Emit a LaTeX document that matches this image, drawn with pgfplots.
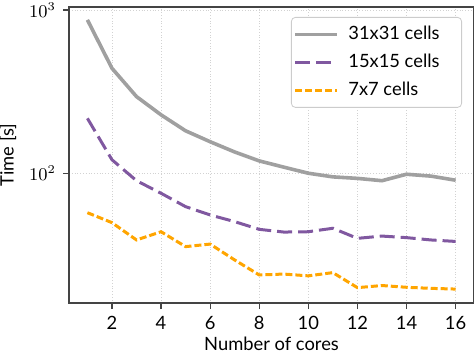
\documentclass[border=0pt]{standalone}
\usepackage{pgfplots}
\pgfplotsset{compat=1.18}
\usepackage{fontspec}
\setmainfont{Lato}
\definecolor{cgray}{RGB}{160,160,160}
\definecolor{cpurple}{RGB}{128,88,160}
\definecolor{corange}{RGB}{255,165,0}
\definecolor{spine}{RGB}{68,68,68}
\begin{document}
\begin{tikzpicture}
\begin{axis}[
  scale only axis,
  width=202.5bp, height=147.9bp,
  ymode=log,
  xmin=0.25, xmax=16.75,
  ymin=16, ymax=1040,
  xtick={2,4,...,16},
  ytick={100,1000},
  log basis y=10,
  font=\fontsize{9.2}{11}\selectfont,
  tick label style={font=\fontsize{9.2}{11}\selectfont},
  /pgf/number format/assume math mode=true,
  yticklabel={$10^{\pgfmathprintnumber[fixed,precision=0]{\tick}}$},
  xlabel={Number of cores},
  ylabel={Time [s]},
  xlabel style={at={(axis description cs:0.5,0)}, anchor=base, yshift=-23.5bp},
  ylabel style={at={(axis description cs:0,0.5)}, anchor=center, yshift=30.5bp},
  axis line style={spine, line width=0.8pt},
  tick style={spine, line width=0.6pt},
  tick align=outside,
  major tick length=3pt,
  minor tick length=1.8pt,
  xtick pos=bottom, ytick pos=left,
  grid=major,
  major grid style={densely dotted, gray!35, line width=0.4pt},
  legend style={at={(rel axis cs:1,1)}, xshift=-6bp, yshift=-4.85bp, anchor=north east,
    draw=gray!40, rounded corners=2pt,
    font=\fontsize{9.2}{11}\selectfont, row sep=1.4bp, inner xsep=1bp, inner ysep=2.2bp,
    nodes={text height=6.8bp, text depth=1.8bp, inner sep=2bp},
    /tikz/every odd column/.append style={column sep=2.7bp}},
  legend cell align=left,
  legend image code/.code={\draw[#1] (0bp,0bp) -- (21bp,0bp);},
]
\addplot[cgray, line width=1.8bp] coordinates {
(1,871) (2,440) (3,295) (4,228) (5,182) (6,156) (7,135) (8,119) (9,109) (10,100) (11,95) (12,93) (13,90) (14,98.6) (15,96) (16,90.6)};
\addlegendentry{31x31 cells\hspace*{8bp}\mbox{}}
\addplot[cpurple, line width=1.5bp, dash pattern=on 7.5bp off 3bp] coordinates {
(1,217) (2,121) (3,90) (4,75.4) (5,62.4) (6,55.5) (7,50.5) (8,45.3) (9,43.6) (10,43.8) (11,46) (12,39.9) (13,41.2) (14,40.3) (15,39) (16,38.2)};
\addlegendentry{15x15 cells\hspace*{8bp}\mbox{}}
\addplot[corange, line width=1.5bp, dash pattern=on 3.5bp off 1.5bp] coordinates {
(1,57.3) (2,49.8) (3,39) (4,43.8) (5,35.5) (6,36.8) (7,29.4) (8,23.8) (9,24.1) (10,23.5) (11,24.6) (12,19.9) (13,20.5) (14,20) (15,19.7) (16,19.5)};
\addlegendentry{7x7 cells}
\end{axis}
\pgfresetboundingbox
\path[use as bounding box] ([xshift=-34.5bp,yshift=-25bp]current axis.south west) rectangle ([yshift=3.65bp]current axis.north east);
\end{tikzpicture}
\end{document}
